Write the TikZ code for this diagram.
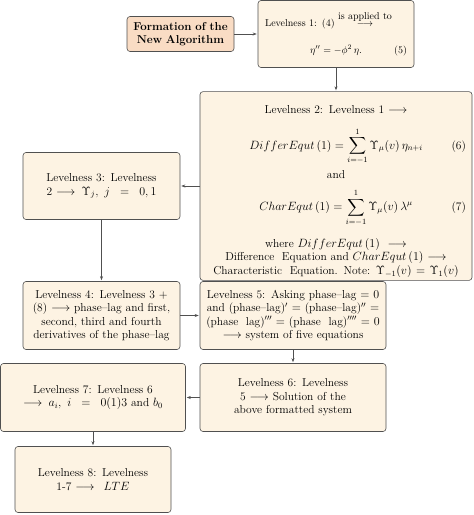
\documentclass[tikz,border=0pt]{standalone}
\usepackage{amsmath}
\usetikzlibrary{positioning,arrows.meta}

\definecolor{levelfill}{HTML}{FDF3E3}
\definecolor{startfill}{HTML}{F9DCC4}
\definecolor{levelline}{HTML}{505050}

\newcommand{\eqnrow}[2]{\makebox[\hsize]{\hfill#1\hfill\llap{#2}}}

\tikzset{
  levelbox/.style={draw=levelline,fill=levelfill,rounded corners=3pt,line width=0.6pt,inner sep=3pt,align=center,
    font=\fontsize{11.5pt}{13.5pt}\selectfont},
  startbox/.style={levelbox,fill=startfill,font=\fontsize{11.5pt}{13.5pt}\selectfont\bfseries},
}

\begin{document}
\begin{tikzpicture}[x=1pt,y=-1pt,shorten >=1pt,node distance=2cm,on grid,>={Stealth[length=4pt,width=3pt]}]
    \useasboundingbox (0,0) rectangle (474,515);

    \node[startbox,text width=101pt,minimum width=105pt,minimum height=35pt] (start) at (180.5,34) {Formation of the\\New Algorithm};
    \node[levelbox,align=left,font=\fontsize{10pt}{12pt}\selectfont,text width=142pt,minimum width=156pt,minimum height=67pt] (lev1) [right=155.5pt of start]
        {Levelness 1: (4) $\overset{\mbox{is applied to}}{\longrightarrow}$\\[15pt]
         \eqnrow{$\eta''=-\phi^2\,\eta.$}{(5)}};
    \node[levelbox,text width=260pt,minimum width=272pt,minimum height=183pt] (lev2) [below=152pt of lev1]
        {\rule{0pt}{19pt}Levelness 2: Levelness 1 $\longrightarrow$\\[13pt]
         \eqnrow{$\displaystyle DifferEqut\,(1)=\sum_{i=-1}^{1}\Upsilon_{\mu}(v)\,\eta_{n+i}$}{(6)}\\[5pt]
         and\\[9pt]
         \eqnrow{$\displaystyle CharEqut\,(1)=\sum_{i=-1}^{1}\Upsilon_{\mu}(v)\,\lambda^{\mu}$}{(7)}\\[11pt]
         where $DifferEqut\,(1)$ \ $\longrightarrow$\\
         Difference \ Equation and $CharEqut\,(1)$ $\longrightarrow$\\
         Characteristic \ Equation. Note: $\Upsilon_{-1}(v)=\Upsilon_{1}(v)$};
    \node[levelbox,text width=151pt,minimum width=155pt,minimum height=67pt] (lev3) [left=234.5pt of lev2]
        {Levelness 3: Levelness\\2 $\longrightarrow\Upsilon_{j},\ j\ =\ 0,1$};
    \node[levelbox,text width=151pt,minimum width=155pt,minimum height=68pt] (lev4) [below=129.5pt of lev3]
        {Levelness 4: Levelness 3 +\\(8) $\longrightarrow$ phase--lag and first,\\second, third and fourth\\derivatives of the phase--lag};
    \node[levelbox,text width=180pt,minimum width=184pt,minimum height=68pt] (lev5) [right=191.5pt of lev4]
        {Levelness 5: Asking phase--lag $=0$\\and (phase--lag)$'$ $=$ (phase--lag)$''$ $=$\\(phase \ lag)$'''$ $=$ (phase \ lag)$''''$ $=0$\\$\longrightarrow$ system of five equations};
    \node[levelbox,text width=180pt,minimum width=184pt,minimum height=68pt] (lev6) [below=82pt of lev5]
        {Levelness 6: Levelness\\5 $\longrightarrow$ Solution of the\\above formatted system};
    \node[levelbox,text width=179pt,minimum width=183pt,minimum height=68pt] (lev7) [left=200pt of lev6]
        {Levelness 7: Levelness 6\\$\longrightarrow a_{i},\ i\ =\ 0(1)3$ and $b_{0}$};
    \node[levelbox,text width=150pt,minimum width=154pt,minimum height=66pt] (lev8) [below=82pt of lev7]
        {Levelness 8: Levelness\\1-7 $\longrightarrow LTE$};

    \path[->,levelline,line width=0.6pt]
        (start) edge (lev1)
        (lev1)  edge (lev2)
        (lev2)  edge (lev3)
        (lev3)  edge (lev4)
        (lev4)  edge (lev5)
        (lev5)  edge (lev6)
        (lev6)  edge (lev7)
        (lev7)  edge (lev8);
\end{tikzpicture}
\end{document}
